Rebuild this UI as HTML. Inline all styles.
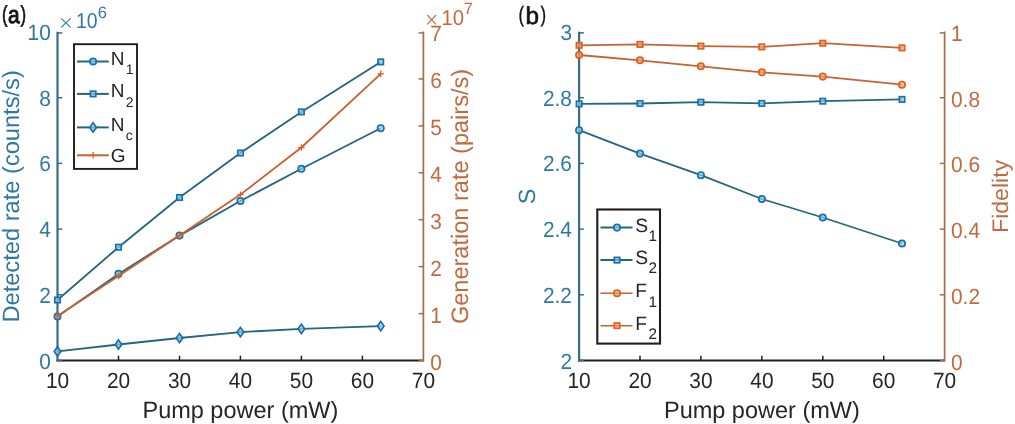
<!DOCTYPE html>
<html><head><meta charset="utf-8"><style>
html,body{margin:0;padding:0;background:#fff;overflow:hidden;}
svg{display:block;filter:blur(0.5px);}
text{text-rendering:geometricPrecision;}
</style></head><body>
<svg width="1015" height="424" viewBox="0 0 1015 424" font-family='"Liberation Sans", sans-serif'>
<rect width="1015" height="424" fill="#fff"/>
<text x="2.0" y="21.8" font-size="23" fill="#111" stroke="#111" stroke-width="0.65" textLength="5.6" lengthAdjust="spacingAndGlyphs">(</text>
<text x="7.9" y="23.0" font-size="24.3" fill="#111" stroke="#111" stroke-width="1.0" textLength="11.6" lengthAdjust="spacingAndGlyphs">a</text>
<text x="20.4" y="21.8" font-size="23" fill="#111" stroke="#111" stroke-width="0.65" textLength="5.6" lengthAdjust="spacingAndGlyphs">)</text>
<text x="518.6" y="22.4" font-size="22.3" fill="#111" stroke="#111" stroke-width="0.35" textLength="5.6" lengthAdjust="spacingAndGlyphs">(</text>
<text x="525.6" y="24.4" font-size="24.3" fill="#111" stroke="#111" stroke-width="0.6">b</text>
<text x="540.4" y="22.4" font-size="22.3" fill="#111" stroke="#111" stroke-width="0.35" textLength="5.6" lengthAdjust="spacingAndGlyphs">)</text>
<line x1="56.5" y1="360.5" x2="423.4" y2="360.5" stroke="#1e1e1e" stroke-width="2"/>
<line x1="57.5" y1="31.7" x2="57.5" y2="361.5" stroke="#346f8a" stroke-width="2.2"/>
<line x1="423.4" y1="31.4" x2="423.4" y2="361.5" stroke="#a46c48" stroke-width="1.7"/>
<line x1="118.5" y1="360.5" x2="118.5" y2="355.7" stroke="#1e1e1e" stroke-width="1.5"/>
<line x1="179.5" y1="360.5" x2="179.5" y2="355.7" stroke="#1e1e1e" stroke-width="1.5"/>
<line x1="240.4" y1="360.5" x2="240.4" y2="355.7" stroke="#1e1e1e" stroke-width="1.5"/>
<line x1="301.4" y1="360.5" x2="301.4" y2="355.7" stroke="#1e1e1e" stroke-width="1.5"/>
<line x1="362.4" y1="360.5" x2="362.4" y2="355.7" stroke="#1e1e1e" stroke-width="1.5"/>
<text x="57.5" y="388.4" font-size="22" fill="#262626" text-anchor="middle" textLength="23.25" lengthAdjust="spacingAndGlyphs">10</text>
<text x="118.5" y="388.4" font-size="22" fill="#262626" text-anchor="middle" textLength="23.25" lengthAdjust="spacingAndGlyphs">20</text>
<text x="179.5" y="388.4" font-size="22" fill="#262626" text-anchor="middle" textLength="23.25" lengthAdjust="spacingAndGlyphs">30</text>
<text x="240.4" y="388.4" font-size="22" fill="#262626" text-anchor="middle" textLength="23.25" lengthAdjust="spacingAndGlyphs">40</text>
<text x="301.4" y="388.4" font-size="22" fill="#262626" text-anchor="middle" textLength="23.25" lengthAdjust="spacingAndGlyphs">50</text>
<text x="362.4" y="388.4" font-size="22" fill="#262626" text-anchor="middle" textLength="23.25" lengthAdjust="spacingAndGlyphs">60</text>
<text x="423.4" y="388.4" font-size="22" fill="#262626" text-anchor="middle" textLength="23.25" lengthAdjust="spacingAndGlyphs">70</text>
<line x1="57.5" y1="360.5" x2="62.3" y2="360.5" stroke="#346f8a" stroke-width="1.5"/>
<text x="50.8" y="368.5" font-size="22" fill="#2f78a4" text-anchor="end" textLength="11.62" lengthAdjust="spacingAndGlyphs">0</text>
<line x1="57.5" y1="294.8" x2="62.3" y2="294.8" stroke="#346f8a" stroke-width="1.5"/>
<text x="50.8" y="302.8" font-size="22" fill="#2f78a4" text-anchor="end" textLength="11.62" lengthAdjust="spacingAndGlyphs">2</text>
<line x1="57.5" y1="229.1" x2="62.3" y2="229.1" stroke="#346f8a" stroke-width="1.5"/>
<text x="50.8" y="237.1" font-size="22" fill="#2f78a4" text-anchor="end" textLength="11.62" lengthAdjust="spacingAndGlyphs">4</text>
<line x1="57.5" y1="163.4" x2="62.3" y2="163.4" stroke="#346f8a" stroke-width="1.5"/>
<text x="50.8" y="171.4" font-size="22" fill="#2f78a4" text-anchor="end" textLength="11.62" lengthAdjust="spacingAndGlyphs">6</text>
<line x1="57.5" y1="97.7" x2="62.3" y2="97.7" stroke="#346f8a" stroke-width="1.5"/>
<text x="50.8" y="105.7" font-size="22" fill="#2f78a4" text-anchor="end" textLength="11.62" lengthAdjust="spacingAndGlyphs">8</text>
<line x1="57.5" y1="32.9" x2="62.3" y2="32.9" stroke="#346f8a" stroke-width="1.5"/>
<text x="50.8" y="40.0" font-size="22" fill="#2f78a4" text-anchor="end" textLength="23.25" lengthAdjust="spacingAndGlyphs">10</text>
<line x1="423.4" y1="360.5" x2="418.59999999999997" y2="360.5" stroke="#a46c48" stroke-width="1.5"/>
<text x="430.2" y="369.5" font-size="22" fill="#c06a40" text-anchor="start" textLength="11.62" lengthAdjust="spacingAndGlyphs">0</text>
<line x1="423.4" y1="313.6" x2="418.59999999999997" y2="313.6" stroke="#a46c48" stroke-width="1.5"/>
<text x="430.2" y="322.6" font-size="22" fill="#c06a40" text-anchor="start" textLength="11.62" lengthAdjust="spacingAndGlyphs">1</text>
<line x1="423.4" y1="266.6" x2="418.59999999999997" y2="266.6" stroke="#a46c48" stroke-width="1.5"/>
<text x="430.2" y="275.6" font-size="22" fill="#c06a40" text-anchor="start" textLength="11.62" lengthAdjust="spacingAndGlyphs">2</text>
<line x1="423.4" y1="219.7" x2="418.59999999999997" y2="219.7" stroke="#a46c48" stroke-width="1.5"/>
<text x="430.2" y="228.7" font-size="22" fill="#c06a40" text-anchor="start" textLength="11.62" lengthAdjust="spacingAndGlyphs">3</text>
<line x1="423.4" y1="172.8" x2="418.59999999999997" y2="172.8" stroke="#a46c48" stroke-width="1.5"/>
<text x="430.2" y="181.8" font-size="22" fill="#c06a40" text-anchor="start" textLength="11.62" lengthAdjust="spacingAndGlyphs">4</text>
<line x1="423.4" y1="125.9" x2="418.59999999999997" y2="125.9" stroke="#a46c48" stroke-width="1.5"/>
<text x="430.2" y="134.9" font-size="22" fill="#c06a40" text-anchor="start" textLength="11.62" lengthAdjust="spacingAndGlyphs">5</text>
<line x1="423.4" y1="78.9" x2="418.59999999999997" y2="78.9" stroke="#a46c48" stroke-width="1.5"/>
<text x="430.2" y="87.9" font-size="22" fill="#c06a40" text-anchor="start" textLength="11.62" lengthAdjust="spacingAndGlyphs">6</text>
<line x1="423.4" y1="32.9" x2="418.59999999999997" y2="32.9" stroke="#a46c48" stroke-width="1.5"/>
<text x="430.2" y="41.0" font-size="22" fill="#c06a40" text-anchor="start" textLength="11.62" lengthAdjust="spacingAndGlyphs">7</text>
<text x="240.4" y="418.2" font-size="23.5" fill="#262626" text-anchor="middle" >Pump power (mW)</text>
<line x1="578.1" y1="360.5" x2="944.6" y2="360.5" stroke="#1e1e1e" stroke-width="2"/>
<line x1="579.1" y1="31.7" x2="579.1" y2="361.5" stroke="#346f8a" stroke-width="2.2"/>
<line x1="944.6" y1="31.4" x2="944.6" y2="361.5" stroke="#a46c48" stroke-width="1.7"/>
<line x1="640.0" y1="360.5" x2="640.0" y2="355.7" stroke="#1e1e1e" stroke-width="1.5"/>
<line x1="700.9" y1="360.5" x2="700.9" y2="355.7" stroke="#1e1e1e" stroke-width="1.5"/>
<line x1="761.9" y1="360.5" x2="761.9" y2="355.7" stroke="#1e1e1e" stroke-width="1.5"/>
<line x1="822.8" y1="360.5" x2="822.8" y2="355.7" stroke="#1e1e1e" stroke-width="1.5"/>
<line x1="883.7" y1="360.5" x2="883.7" y2="355.7" stroke="#1e1e1e" stroke-width="1.5"/>
<text x="579.1" y="388.4" font-size="22" fill="#262626" text-anchor="middle" textLength="23.25" lengthAdjust="spacingAndGlyphs">10</text>
<text x="640.0" y="388.4" font-size="22" fill="#262626" text-anchor="middle" textLength="23.25" lengthAdjust="spacingAndGlyphs">20</text>
<text x="700.9" y="388.4" font-size="22" fill="#262626" text-anchor="middle" textLength="23.25" lengthAdjust="spacingAndGlyphs">30</text>
<text x="761.9" y="388.4" font-size="22" fill="#262626" text-anchor="middle" textLength="23.25" lengthAdjust="spacingAndGlyphs">40</text>
<text x="822.8" y="388.4" font-size="22" fill="#262626" text-anchor="middle" textLength="23.25" lengthAdjust="spacingAndGlyphs">50</text>
<text x="883.7" y="388.4" font-size="22" fill="#262626" text-anchor="middle" textLength="23.25" lengthAdjust="spacingAndGlyphs">60</text>
<text x="944.6" y="388.4" font-size="22" fill="#262626" text-anchor="middle" textLength="23.25" lengthAdjust="spacingAndGlyphs">70</text>
<line x1="579.1" y1="360.5" x2="583.9" y2="360.5" stroke="#346f8a" stroke-width="1.5"/>
<text x="572.0" y="368.5" font-size="22" fill="#2f78a4" text-anchor="end" textLength="11.62" lengthAdjust="spacingAndGlyphs">2</text>
<line x1="579.1" y1="294.8" x2="583.9" y2="294.8" stroke="#346f8a" stroke-width="1.5"/>
<text x="572.0" y="302.8" font-size="22" fill="#2f78a4" text-anchor="end" textLength="29.05" lengthAdjust="spacingAndGlyphs">2.2</text>
<line x1="579.1" y1="229.1" x2="583.9" y2="229.1" stroke="#346f8a" stroke-width="1.5"/>
<text x="572.0" y="237.1" font-size="22" fill="#2f78a4" text-anchor="end" textLength="29.05" lengthAdjust="spacingAndGlyphs">2.4</text>
<line x1="579.1" y1="163.4" x2="583.9" y2="163.4" stroke="#346f8a" stroke-width="1.5"/>
<text x="572.0" y="171.4" font-size="22" fill="#2f78a4" text-anchor="end" textLength="29.05" lengthAdjust="spacingAndGlyphs">2.6</text>
<line x1="579.1" y1="97.7" x2="583.9" y2="97.7" stroke="#346f8a" stroke-width="1.5"/>
<text x="572.0" y="105.7" font-size="22" fill="#2f78a4" text-anchor="end" textLength="29.05" lengthAdjust="spacingAndGlyphs">2.8</text>
<line x1="579.1" y1="32.9" x2="583.9" y2="32.9" stroke="#346f8a" stroke-width="1.5"/>
<text x="572.0" y="40.0" font-size="22" fill="#2f78a4" text-anchor="end" textLength="11.62" lengthAdjust="spacingAndGlyphs">3</text>
<line x1="944.6" y1="360.5" x2="939.8000000000001" y2="360.5" stroke="#a46c48" stroke-width="1.5"/>
<text x="951.0" y="369.5" font-size="22" fill="#c06a40" text-anchor="start" textLength="11.62" lengthAdjust="spacingAndGlyphs">0</text>
<line x1="944.6" y1="294.8" x2="939.8000000000001" y2="294.8" stroke="#a46c48" stroke-width="1.5"/>
<text x="951.0" y="303.8" font-size="22" fill="#c06a40" text-anchor="start" textLength="29.05" lengthAdjust="spacingAndGlyphs">0.2</text>
<line x1="944.6" y1="229.1" x2="939.8000000000001" y2="229.1" stroke="#a46c48" stroke-width="1.5"/>
<text x="951.0" y="238.1" font-size="22" fill="#c06a40" text-anchor="start" textLength="29.05" lengthAdjust="spacingAndGlyphs">0.4</text>
<line x1="944.6" y1="163.4" x2="939.8000000000001" y2="163.4" stroke="#a46c48" stroke-width="1.5"/>
<text x="951.0" y="172.4" font-size="22" fill="#c06a40" text-anchor="start" textLength="29.05" lengthAdjust="spacingAndGlyphs">0.6</text>
<line x1="944.6" y1="97.7" x2="939.8000000000001" y2="97.7" stroke="#a46c48" stroke-width="1.5"/>
<text x="951.0" y="106.7" font-size="22" fill="#c06a40" text-anchor="start" textLength="29.05" lengthAdjust="spacingAndGlyphs">0.8</text>
<line x1="944.6" y1="32.9" x2="939.8000000000001" y2="32.9" stroke="#a46c48" stroke-width="1.5"/>
<text x="951.0" y="41.0" font-size="22" fill="#c06a40" text-anchor="start" textLength="11.62" lengthAdjust="spacingAndGlyphs">1</text>
<text x="761.9" y="418.2" font-size="23.5" fill="#262626" text-anchor="middle" >Pump power (mW)</text>
<text x="0" y="0" font-size="23.6" fill="#2f78a4" text-anchor="middle" textLength="252.38" lengthAdjust="spacingAndGlyphs" transform="translate(18.8,196.4) rotate(-90)">Detected rate (counts/s)</text>
<text x="0" y="0" font-size="23.8" fill="#c06a40" text-anchor="middle" textLength="255.23" lengthAdjust="spacingAndGlyphs" transform="translate(468.4,196.5) rotate(-90)">Generation rate (pairs/s)</text>
<text x="0" y="0" font-size="23.5" fill="#2f78a4" text-anchor="middle" textLength="15.67" lengthAdjust="spacingAndGlyphs" transform="translate(534.6,196.3) rotate(-90)">S</text>
<text x="0" y="0" font-size="22.5" fill="#c06a40" text-anchor="middle" textLength="73.17" lengthAdjust="spacingAndGlyphs" transform="translate(1008,196.4) rotate(-90)">Fidelity</text>
<path d="M61.2,18.3 L70.6,27.3 M70.6,18.3 L61.2,27.3" stroke="#2f78a4" stroke-width="1.1" fill="none"/>
<text x="76" y="28" font-size="21.5" fill="#2f78a4" textLength="21.6" lengthAdjust="spacingAndGlyphs">10</text>
<text x="97.8" y="17.5" font-size="16.5" fill="#2f78a4">6</text>
<path d="M427.2,15 L436,24.3 M436,15 L427.2,24.3" stroke="#c06a40" stroke-width="1.1" fill="none"/>
<text x="441.5" y="25.2" font-size="21.5" fill="#c06a40" textLength="22.6" lengthAdjust="spacingAndGlyphs">10</text>
<text x="463.8" y="13.8" font-size="16.5" fill="#c06a40">7</text>
<polyline points="57.5,316.5 118.5,273.9 179.5,235.6 240.4,201.0 301.4,168.8 380.7,128.2" fill="none" stroke="#236680" stroke-width="1.8" stroke-linejoin="round"/>
<circle cx="57.5" cy="316.5" r="3.2" fill="#8ccdf0" fill-opacity="0.7" stroke="#1c70aa" stroke-width="1.7"/>
<circle cx="118.5" cy="273.9" r="3.2" fill="#8ccdf0" fill-opacity="0.7" stroke="#1c70aa" stroke-width="1.7"/>
<circle cx="179.5" cy="235.6" r="3.2" fill="#8ccdf0" fill-opacity="0.7" stroke="#1c70aa" stroke-width="1.7"/>
<circle cx="240.4" cy="201.0" r="3.2" fill="#8ccdf0" fill-opacity="0.7" stroke="#1c70aa" stroke-width="1.7"/>
<circle cx="301.4" cy="168.8" r="3.2" fill="#8ccdf0" fill-opacity="0.7" stroke="#1c70aa" stroke-width="1.7"/>
<circle cx="380.7" cy="128.2" r="3.2" fill="#8ccdf0" fill-opacity="0.7" stroke="#1c70aa" stroke-width="1.7"/>
<polyline points="57.5,300.0 118.5,247.2 179.5,197.5 240.4,153.0 301.4,111.9 380.7,61.9" fill="none" stroke="#236680" stroke-width="1.8" stroke-linejoin="round"/>
<rect x="54.8" y="297.3" width="5.4" height="5.4" fill="#8ccdf0" fill-opacity="0.7" stroke="#1c70aa" stroke-width="1.7"/>
<rect x="115.8" y="244.5" width="5.4" height="5.4" fill="#8ccdf0" fill-opacity="0.7" stroke="#1c70aa" stroke-width="1.7"/>
<rect x="176.8" y="194.8" width="5.4" height="5.4" fill="#8ccdf0" fill-opacity="0.7" stroke="#1c70aa" stroke-width="1.7"/>
<rect x="237.8" y="150.3" width="5.4" height="5.4" fill="#8ccdf0" fill-opacity="0.7" stroke="#1c70aa" stroke-width="1.7"/>
<rect x="298.7" y="109.2" width="5.4" height="5.4" fill="#8ccdf0" fill-opacity="0.7" stroke="#1c70aa" stroke-width="1.7"/>
<rect x="378.0" y="59.2" width="5.4" height="5.4" fill="#8ccdf0" fill-opacity="0.7" stroke="#1c70aa" stroke-width="1.7"/>
<polyline points="57.5,351.4 118.5,344.5 179.5,338.0 240.4,332.1 301.4,328.9 380.7,326.1" fill="none" stroke="#236680" stroke-width="1.8" stroke-linejoin="round"/>
<path d="M57.5,346.8 L60.8,351.4 L57.5,356.0 L54.2,351.4 Z" fill="#8ccdf0" fill-opacity="0.7" stroke="#1c70aa" stroke-width="1.7"/>
<path d="M118.5,339.9 L121.8,344.5 L118.5,349.1 L115.2,344.5 Z" fill="#8ccdf0" fill-opacity="0.7" stroke="#1c70aa" stroke-width="1.7"/>
<path d="M179.5,333.4 L182.8,338.0 L179.5,342.6 L176.2,338.0 Z" fill="#8ccdf0" fill-opacity="0.7" stroke="#1c70aa" stroke-width="1.7"/>
<path d="M240.4,327.5 L243.8,332.1 L240.4,336.7 L237.1,332.1 Z" fill="#8ccdf0" fill-opacity="0.7" stroke="#1c70aa" stroke-width="1.7"/>
<path d="M301.4,324.3 L304.7,328.9 L301.4,333.5 L298.1,328.9 Z" fill="#8ccdf0" fill-opacity="0.7" stroke="#1c70aa" stroke-width="1.7"/>
<path d="M380.7,321.5 L384.0,326.1 L380.7,330.7 L377.4,326.1 Z" fill="#8ccdf0" fill-opacity="0.7" stroke="#1c70aa" stroke-width="1.7"/>
<polyline points="57.5,316.0 118.5,276.0 179.5,235.6 240.4,194.6 301.4,147.5 380.7,73.8" fill="none" stroke="#c8622e" stroke-width="1.8" stroke-linejoin="round"/>
<path d="M54.3,316.0 H60.7 M57.5,312.8 V319.2" stroke="#de6020" stroke-width="1.3"/>
<path d="M115.3,276.0 H121.7 M118.5,272.8 V279.2" stroke="#de6020" stroke-width="1.3"/>
<path d="M176.3,235.6 H182.7 M179.5,232.4 V238.8" stroke="#de6020" stroke-width="1.3"/>
<path d="M237.2,194.6 H243.6 M240.4,191.4 V197.8" stroke="#de6020" stroke-width="1.3"/>
<path d="M298.2,147.5 H304.6 M301.4,144.3 V150.7" stroke="#de6020" stroke-width="1.3"/>
<path d="M377.5,73.8 H383.9 M380.7,70.6 V77.0" stroke="#de6020" stroke-width="1.3"/>
<polyline points="579.1,130.2 640.0,153.6 700.9,175.2 761.9,199.0 822.8,217.5 902.0,243.5" fill="none" stroke="#236680" stroke-width="1.8" stroke-linejoin="round"/>
<circle cx="579.1" cy="130.2" r="3.2" fill="#8ccdf0" fill-opacity="0.7" stroke="#1c70aa" stroke-width="1.7"/>
<circle cx="640.0" cy="153.6" r="3.2" fill="#8ccdf0" fill-opacity="0.7" stroke="#1c70aa" stroke-width="1.7"/>
<circle cx="700.9" cy="175.2" r="3.2" fill="#8ccdf0" fill-opacity="0.7" stroke="#1c70aa" stroke-width="1.7"/>
<circle cx="761.9" cy="199.0" r="3.2" fill="#8ccdf0" fill-opacity="0.7" stroke="#1c70aa" stroke-width="1.7"/>
<circle cx="822.8" cy="217.5" r="3.2" fill="#8ccdf0" fill-opacity="0.7" stroke="#1c70aa" stroke-width="1.7"/>
<circle cx="902.0" cy="243.5" r="3.2" fill="#8ccdf0" fill-opacity="0.7" stroke="#1c70aa" stroke-width="1.7"/>
<polyline points="579.1,103.9 640.0,103.5 700.9,102.2 761.9,103.4 822.8,101.2 902.0,99.4" fill="none" stroke="#236680" stroke-width="1.8" stroke-linejoin="round"/>
<rect x="576.4" y="101.2" width="5.4" height="5.4" fill="#8ccdf0" fill-opacity="0.7" stroke="#1c70aa" stroke-width="1.7"/>
<rect x="637.3" y="100.8" width="5.4" height="5.4" fill="#8ccdf0" fill-opacity="0.7" stroke="#1c70aa" stroke-width="1.7"/>
<rect x="698.2" y="99.5" width="5.4" height="5.4" fill="#8ccdf0" fill-opacity="0.7" stroke="#1c70aa" stroke-width="1.7"/>
<rect x="759.1" y="100.7" width="5.4" height="5.4" fill="#8ccdf0" fill-opacity="0.7" stroke="#1c70aa" stroke-width="1.7"/>
<rect x="820.1" y="98.5" width="5.4" height="5.4" fill="#8ccdf0" fill-opacity="0.7" stroke="#1c70aa" stroke-width="1.7"/>
<rect x="899.3" y="96.7" width="5.4" height="5.4" fill="#8ccdf0" fill-opacity="0.7" stroke="#1c70aa" stroke-width="1.7"/>
<polyline points="579.1,55.0 640.0,60.3 700.9,66.3 761.9,72.3 822.8,76.6 902.0,84.7" fill="none" stroke="#c8622e" stroke-width="1.8" stroke-linejoin="round"/>
<circle cx="579.1" cy="55.0" r="3.2" fill="#f5a070" fill-opacity="0.7" stroke="#de6020" stroke-width="1.7"/>
<circle cx="640.0" cy="60.3" r="3.2" fill="#f5a070" fill-opacity="0.7" stroke="#de6020" stroke-width="1.7"/>
<circle cx="700.9" cy="66.3" r="3.2" fill="#f5a070" fill-opacity="0.7" stroke="#de6020" stroke-width="1.7"/>
<circle cx="761.9" cy="72.3" r="3.2" fill="#f5a070" fill-opacity="0.7" stroke="#de6020" stroke-width="1.7"/>
<circle cx="822.8" cy="76.6" r="3.2" fill="#f5a070" fill-opacity="0.7" stroke="#de6020" stroke-width="1.7"/>
<circle cx="902.0" cy="84.7" r="3.2" fill="#f5a070" fill-opacity="0.7" stroke="#de6020" stroke-width="1.7"/>
<polyline points="579.1,45.3 640.0,44.4 700.9,46.1 761.9,46.9 822.8,43.2 902.0,47.9" fill="none" stroke="#c8622e" stroke-width="1.8" stroke-linejoin="round"/>
<rect x="576.4" y="42.6" width="5.4" height="5.4" fill="#f5a070" fill-opacity="0.7" stroke="#de6020" stroke-width="1.7"/>
<rect x="637.3" y="41.7" width="5.4" height="5.4" fill="#f5a070" fill-opacity="0.7" stroke="#de6020" stroke-width="1.7"/>
<rect x="698.2" y="43.4" width="5.4" height="5.4" fill="#f5a070" fill-opacity="0.7" stroke="#de6020" stroke-width="1.7"/>
<rect x="759.1" y="44.2" width="5.4" height="5.4" fill="#f5a070" fill-opacity="0.7" stroke="#de6020" stroke-width="1.7"/>
<rect x="820.1" y="40.5" width="5.4" height="5.4" fill="#f5a070" fill-opacity="0.7" stroke="#de6020" stroke-width="1.7"/>
<rect x="899.3" y="45.2" width="5.4" height="5.4" fill="#f5a070" fill-opacity="0.7" stroke="#de6020" stroke-width="1.7"/>
<rect x="74" y="44.2" width="63" height="124.7" fill="#fff" stroke="#1e1e1e" stroke-width="1.9"/>
<line x1="77" y1="61.5" x2="108.8" y2="61.5" stroke="#236680" stroke-width="2.0"/>
<circle cx="93.1" cy="61.5" r="3.2" fill="#8ccdf0" fill-opacity="0.7" stroke="#1c70aa" stroke-width="1.7"/>
<text x="110.8" y="64.8" font-size="19" fill="#262626" text-anchor="start" >N</text>
<text x="125.8" y="74.1" font-size="14" fill="#262626" text-anchor="start" >1</text>
<line x1="77" y1="93.9" x2="108.8" y2="93.9" stroke="#236680" stroke-width="2.0"/>
<rect x="90.4" y="91.2" width="5.4" height="5.4" fill="#8ccdf0" fill-opacity="0.7" stroke="#1c70aa" stroke-width="1.7"/>
<text x="110.8" y="97.2" font-size="19" fill="#262626" text-anchor="start" >N</text>
<text x="125.8" y="106.5" font-size="14" fill="#262626" text-anchor="start" >2</text>
<line x1="77" y1="127.4" x2="108.8" y2="127.4" stroke="#236680" stroke-width="2.0"/>
<path d="M93.1,122.8 L96.4,127.4 L93.1,132.0 L89.8,127.4 Z" fill="#8ccdf0" fill-opacity="0.7" stroke="#1c70aa" stroke-width="1.7"/>
<text x="110.8" y="130.7" font-size="19" fill="#262626" text-anchor="start" >N</text>
<text x="125.8" y="140.0" font-size="14" fill="#262626" text-anchor="start" >c</text>
<line x1="77" y1="155.3" x2="108.8" y2="155.3" stroke="#c8622e" stroke-width="2.0"/>
<path d="M89.9,155.3 H96.3 M93.1,152.1 V158.5" stroke="#de6020" stroke-width="1.3"/>
<text x="110.8" y="162.2" font-size="19" fill="#262626" text-anchor="start" >G</text>
<rect x="597.3" y="209.5" width="62.7" height="134.1" fill="#fff" stroke="#1e1e1e" stroke-width="2.1"/>
<line x1="600.5" y1="227.6" x2="632.5" y2="227.6" stroke="#236680" stroke-width="2.0"/>
<circle cx="617.0" cy="227.6" r="3.2" fill="#8ccdf0" fill-opacity="0.7" stroke="#1c70aa" stroke-width="1.7"/>
<text x="635.2" y="231.5" font-size="19.3" fill="#262626" text-anchor="start" >S</text>
<text x="648.6" y="240.9" font-size="15.3" fill="#262626" text-anchor="start" >1</text>
<line x1="600.5" y1="260.1" x2="632.5" y2="260.1" stroke="#236680" stroke-width="2.0"/>
<rect x="614.3" y="257.4" width="5.4" height="5.4" fill="#8ccdf0" fill-opacity="0.7" stroke="#1c70aa" stroke-width="1.7"/>
<text x="635.2" y="264.0" font-size="19.3" fill="#262626" text-anchor="start" >S</text>
<text x="648.6" y="273.4" font-size="15.3" fill="#262626" text-anchor="start" >2</text>
<line x1="600.5" y1="293.2" x2="632.5" y2="293.2" stroke="#c8622e" stroke-width="1.6"/>
<circle cx="617.0" cy="293.2" r="3.2" fill="#f5a070" fill-opacity="0.7" stroke="#de6020" stroke-width="1.7"/>
<text x="635.2" y="297.1" font-size="19.3" fill="#262626" text-anchor="start" >F</text>
<text x="648.6" y="306.5" font-size="15.3" fill="#262626" text-anchor="start" >1</text>
<line x1="600.5" y1="325.7" x2="632.5" y2="325.7" stroke="#c8622e" stroke-width="1.6"/>
<rect x="614.3" y="323.0" width="5.4" height="5.4" fill="#f5a070" fill-opacity="0.7" stroke="#de6020" stroke-width="1.7"/>
<text x="635.2" y="329.6" font-size="19.3" fill="#262626" text-anchor="start" >F</text>
<text x="648.6" y="339.0" font-size="15.3" fill="#262626" text-anchor="start" >2</text>
</svg>
</body></html>
